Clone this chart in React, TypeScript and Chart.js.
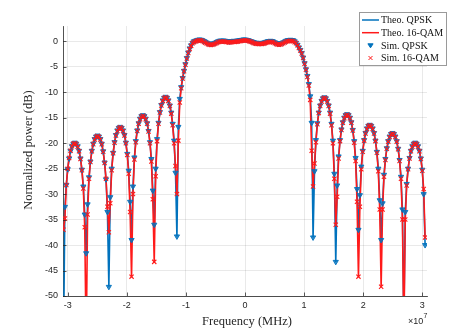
import React, { useEffect, useRef } from "react";
import { Chart, registerables } from "chart.js";

Chart.register(...registerables);

// ---- data ----
// FFT grid: 256 bins, first bin at -30.72 MHz, bin spacing 0.24 MHz
const FREQ_START_HZ = -3.072e7;
const FREQ_STEP_HZ = 2.4e5;

const X_TICKS = [-3e7, -2e7, -1e7, 0, 1e7, 2e7, 3e7];
const Y_TICKS = [-50, -45, -40, -35, -30, -25, -20, -15, -10, -5, 0];
const X_MIN = -3.08e7;
const X_MAX = 3.08e7;
const Y_MIN = -50;
const Y_MAX = 3;

const SERIES_NAMES = ["Theo. QPSK", "Theo. 16-QAM", "Sim. QPSK", "Sim. 16-QAM"];

// Normalized power (dB), one value per bin
const THEO_QPSK_DB = [
  // -30.72 .. -27.12 MHz
  -60.0, -32.5, -28.2, -25.1, -23.0, -21.5, -20.6, -20.1, -19.9, -20.1, -20.6, -21.5, -23.0, -25.2, -28.5, -34.0,
  -41.6, -32.0, -26.7, -23.6, -21.5, -20.1, -19.2, -18.7, -18.5, -18.7, -19.2, -20.1, -21.6, -23.8, -27.1, -33.5,
  -48.2, -30.6, -25.0, -21.9, -19.8, -18.4, -17.5, -17.0, -16.8, -17.0, -17.5, -18.4, -19.9, -22.1, -25.4, -31.5,
  -39.0, -28.5, -22.8, -19.6, -17.5, -16.1, -15.2, -14.7, -14.5, -14.7, -15.2, -16.1, -17.6, -19.8, -23.1, -29.3,
  -36.0, -25.0, -19.2, -16.0, -13.9, -12.5, -11.6, -11.1, -10.9, -11.1, -11.6, -12.6, -14.0, -16.2, -19.5, -25.8,
  // main lobe
  -38.3, -16.8, -11.3, -9.0, -7.2, -5.8, -4.5, -3.3, -2.2, -1.4, -0.8, -0.3,
  0.0, 0.1, 0.2, 0.3, 0.35, 0.3, 0.2, 0.05, -0.1, -0.25,
  -0.4, -0.5, -0.55, -0.5, -0.4, -0.3, -0.15, 0.0, 0.1, 0.15,
  0.1, 0.15, 0.1, 0.05, 0.0, -0.05, 0.0, 0.05, 0.1, 0.05,
  0.1, 0.15, 0.2, 0.25, 0.3, 0.35, 0.35, 0.3, 0.25, 0.15,
  0.05, -0.05, -0.15, -0.25, -0.3, -0.35, -0.35, -0.3, -0.35, -0.3,
  -0.2, -0.1, 0.0, 0.05, 0.1, 0.05, -0.05, -0.2, -0.35, -0.45,
  -0.5, -0.45, -0.35, -0.2, -0.05, 0.1, 0.2, 0.25, 0.3, 0.25,
  0.2, 0.0,
  -0.3, -0.7, -1.2, -1.7, -2.3, -3.2, -4.3, -5.5, -6.8, -8.4, -10.8, -16.0,
  // right side lobes
  -38.5, -25.5, -19.4, -16.1, -14.0, -12.6, -11.7, -11.2, -11.0, -11.2, -11.7, -12.6, -14.0, -16.2, -19.5, -26.0,
  -43.3, -28.3, -22.6, -19.4, -17.3, -15.9, -15.0, -14.5, -14.3, -14.5, -15.0, -15.9, -17.4, -19.6, -22.9, -29.0,
  -37.0, -30.2, -24.6, -21.5, -19.4, -18.0, -17.1, -16.6, -16.4, -16.6, -17.1, -18.0, -19.5, -21.7, -25.0, -31.2,
  -39.0, -31.8, -26.2, -23.1, -21.0, -19.6, -18.7, -18.2, -18.0, -18.2, -18.7, -19.6, -21.1, -23.3, -26.6, -33.0,
  -55.0, -33.5, -28.0, -25.0, -22.9, -21.5, -20.6, -20.1, -19.9, -20.1, -20.6, -21.5, -23.0, -25.2, -30.0, -40.0,
];

const THEO_QAM16_DB = [
  -37.0, -34.8, -28.2, -25.0, -22.9, -21.5, -20.6, -20.1, -20.0, -20.2, -20.7, -21.6, -23.1, -25.3, -28.9, -36.5,
  -60.0, -34.0, -27.0, -23.7, -21.6, -20.2, -19.3, -18.8, -18.6, -18.8, -19.3, -20.2, -21.7, -23.9, -27.0, -32.5,
  -37.5, -31.8, -25.3, -22.0, -19.9, -18.5, -17.6, -17.1, -16.9, -17.1, -17.6, -18.5, -20.0, -22.3, -26.0, -33.5,
  -46.2, -30.0, -23.2, -19.8, -17.6, -16.2, -15.3, -14.8, -14.6, -14.8, -15.3, -16.2, -17.7, -20.0, -23.6, -31.0,
  -43.3, -26.5, -19.6, -16.2, -14.0, -12.6, -11.7, -11.2, -11.0, -11.2, -11.7, -12.7, -14.2, -16.5, -20.0, -24.5,
  -30.0, -19.5, -12.0, -9.2, -7.3, -5.9, -4.6, -3.4, -2.3, -1.5, -0.9, -0.4,
  -0.2, -0.05, 0.05, 0.15, 0.2, 0.15, 0.05, -0.15, -0.3, -0.45,
  -0.6, -0.7, -0.75, -0.7, -0.6, -0.5, -0.35, -0.2, -0.1, -0.05,
  -0.1, -0.05, -0.1, -0.15, -0.2, -0.25, -0.2, -0.15, -0.1, -0.15,
  -0.1, -0.05, 0.0, 0.05, 0.1, 0.15, 0.2, 0.15, 0.1, 0.0,
  -0.1, -0.2, -0.35, -0.45, -0.5, -0.55, -0.55, -0.5, -0.55, -0.5,
  -0.4, -0.3, -0.2, -0.15, -0.1, -0.15, -0.25, -0.4, -0.55, -0.65,
  -0.7, -0.65, -0.55, -0.4, -0.25, -0.1, 0.0, 0.05, 0.1, 0.05,
  0.0, -0.2,
  -0.4, -0.8, -1.3, -1.8, -2.4, -3.3, -4.4, -5.6, -7.0, -8.7, -11.5, -21.5,
  -28.5, -24.0, -19.8, -16.3, -14.1, -12.7, -11.8, -11.3, -11.1, -11.3, -11.8, -12.7, -14.2, -16.5, -20.0, -27.0,
  -36.0, -30.5, -23.0, -19.6, -17.4, -16.0, -15.1, -14.6, -14.4, -14.6, -15.1, -16.0, -17.5, -19.9, -23.5, -31.5,
  -46.2, -32.5, -25.1, -21.7, -19.5, -18.1, -17.2, -16.7, -16.5, -16.7, -17.2, -18.1, -19.6, -21.9, -25.5, -33.0,
  -48.2, -33.0, -26.6, -23.3, -21.1, -19.7, -18.8, -18.3, -18.1, -18.3, -18.8, -19.7, -21.2, -23.5, -27.0, -35.0,
  -58.0, -35.0, -28.3, -25.1, -23.0, -21.6, -20.7, -20.2, -20.0, -20.2, -20.7, -21.6, -23.1, -25.4, -29.0, -38.5,
];

// simulated points sit on the theoretical curves at this resolution
const SIM_QPSK_DB = THEO_QPSK_DB;
const SIM_QAM16_DB = THEO_QAM16_DB;

const BLUE = "#0072BD";
const RED = "#FF1A1A";
const AXIS = "#262626";
const SERIF = '"Liberation Serif", "Times New Roman", serif';
const SANS = '"Liberation Sans", Arial, sans-serif';

const toPoints = (vals: number[]) =>
  vals.map((y, i) => ({ x: FREQ_START_HZ + i * FREQ_STEP_HZ, y }));

const decorPlugin = {
  id: "decor",
  afterDraw(chart: any) {
    const ctx = chart.ctx as CanvasRenderingContext2D;
    const { left, bottom } = chart.chartArea;
    const xs = chart.scales.x;
    const ys = chart.scales.y;
    ctx.save();
    // inward tick marks
    ctx.strokeStyle = AXIS;
    ctx.lineWidth = 0.75;
    ctx.beginPath();
    for (const v of Y_TICKS) {
      const y = Math.round(ys.getPixelForValue(v)) + 0.5;
      ctx.moveTo(left, y);
      ctx.lineTo(left + 3.5, y);
    }
    for (const v of X_TICKS) {
      const x = Math.round(xs.getPixelForValue(v)) + 0.5;
      ctx.moveTo(x, bottom);
      ctx.lineTo(x, bottom - 3.5);
    }
    ctx.stroke();

    // axis titles
    ctx.fillStyle = AXIS;
    ctx.font = `12.5px ${SERIF}`;
    ctx.textAlign = "center";
    ctx.textBaseline = "middle";
    ctx.fillText("Frequency (MHz)", 247, 322);
    ctx.save();
    ctx.translate(29, 150);
    ctx.rotate(-Math.PI / 2);
    ctx.fillText("Normalized power (dB)", 0, 0);
    ctx.restore();

    // exponent
    ctx.textAlign = "left";
    ctx.textBaseline = "alphabetic";
    ctx.font = `9px ${SANS}`;
    ctx.fillText("\u00d710", 408, 324);
    ctx.font = `7px ${SANS}`;
    ctx.fillText("7", 423.5, 318);

    // legend
    const bx = 359.5, by = 12.5, bw = 87, bh = 53;
    ctx.fillStyle = "#ffffff";
    ctx.fillRect(bx, by, bw, bh);
    ctx.strokeStyle = "#9a9a9a";
    ctx.lineWidth = 1;
    ctx.strokeRect(bx, by, bw, bh);
    const rows = [20, 32.7, 45.4, 58];
    ctx.lineWidth = 1.5;
    ctx.strokeStyle = BLUE;
    ctx.beginPath();
    ctx.moveTo(362, rows[0]);
    ctx.lineTo(379, rows[0]);
    ctx.stroke();
    ctx.strokeStyle = RED;
    ctx.beginPath();
    ctx.moveTo(362, rows[1]);
    ctx.lineTo(379, rows[1]);
    ctx.stroke();
    // triangle down
    const mx = 370.5;
    ctx.fillStyle = BLUE;
    ctx.strokeStyle = BLUE;
    ctx.lineWidth = 1;
    ctx.beginPath();
    ctx.moveTo(mx - 2.6, rows[2] - 1.6);
    ctx.lineTo(mx + 2.6, rows[2] - 1.6);
    ctx.lineTo(mx, rows[2] + 2.4);
    ctx.closePath();
    ctx.fill();
    ctx.stroke();
    // x marker
    ctx.strokeStyle = RED;
    ctx.beginPath();
    ctx.moveTo(mx - 2, rows[3] - 2);
    ctx.lineTo(mx + 2, rows[3] + 2);
    ctx.moveTo(mx + 2, rows[3] - 2);
    ctx.lineTo(mx - 2, rows[3] + 2);
    ctx.stroke();
    ctx.fillStyle = "#111";
    ctx.font = `10px ${SERIF}`;
    ctx.textAlign = "left";
    ctx.textBaseline = "middle";
    SERIES_NAMES.forEach((name, i) => ctx.fillText(name, 381, rows[i] + 0.5));
    ctx.restore();
  },
};

export default function App() {
  const ref = useRef<HTMLCanvasElement | null>(null);
  useEffect(() => {
    if (!ref.current) return;
    const chart = new Chart(ref.current, {
      type: "line",
      data: {
        datasets: [
          {
            label: SERIES_NAMES[0],
            data: toPoints(THEO_QPSK_DB),
            borderColor: BLUE,
            borderWidth: 1.6,
            pointRadius: 0,
            order: 3,
          },
          {
            label: SERIES_NAMES[1],
            data: toPoints(THEO_QAM16_DB),
            borderColor: RED,
            borderWidth: 1.6,
            pointRadius: 0,
            order: 2,
          },
          {
            label: SERIES_NAMES[2],
            data: toPoints(SIM_QPSK_DB),
            showLine: false,
            pointStyle: "triangle",
            rotation: 180,
            pointRadius: 3,
            pointBorderWidth: 0.9,
            pointBorderColor: BLUE,
            pointBackgroundColor: "rgba(0,114,189,0.8)",
            order: 1,
          },
          {
            label: SERIES_NAMES[3],
            data: toPoints(SIM_QAM16_DB),
            showLine: false,
            pointStyle: "crossRot",
            pointRadius: 3,
            pointBorderWidth: 1.1,
            pointBorderColor: RED,
            pointBackgroundColor: RED,
            order: 0,
          },
        ] as any,
      },
      options: {
        animation: false,
        responsive: false,
        devicePixelRatio: 1,
        layout: { padding: { top: 26, right: 47, left: 0, bottom: 0 } },
        plugins: { legend: { display: false }, tooltip: { enabled: false } },
        elements: { line: { tension: 0 } },
        scales: {
          x: {
            type: "linear",
            min: X_MIN,
            max: X_MAX,
            afterBuildTicks: (s: any) => {
              s.ticks = X_TICKS.map((v) => ({ value: v }));
            },
            afterFit: (s: any) => {
              s.height = 37;
            },
            ticks: {
              callback: (v: any) => String(Number(v) / 1e7),
              color: AXIS,
              font: { family: SANS, size: 9 },
              padding: 4,
              maxRotation: 0,
              autoSkip: false,
            },
            grid: { color: "rgba(38,38,38,0.13)", lineWidth: 0.8, drawTicks: false },
            border: { color: AXIS, width: 0.8 },
          },
          y: {
            type: "linear",
            min: Y_MIN,
            max: Y_MAX,
            afterBuildTicks: (s: any) => {
              s.ticks = Y_TICKS.map((v) => ({ value: v }));
            },
            afterFit: (s: any) => {
              s.width = 63;
            },
            ticks: {
              color: AXIS,
              font: { family: SANS, size: 9 },
              padding: 5,
            },
            grid: { color: "rgba(38,38,38,0.13)", lineWidth: 0.8, drawTicks: false },
            border: { color: AXIS, width: 0.8 },
          },
        },
      },
      plugins: [decorPlugin],
    });
    return () => chart.destroy();
  }, []);
  return (
    <div
      style={{
        position: "fixed",
        left: 0,
        top: 0,
        width: 474,
        height: 333,
        background: "#ffffff",
      }}
    >
      <canvas ref={ref} width={474} height={333} style={{ display: "block" }} />
    </div>
  );
}
